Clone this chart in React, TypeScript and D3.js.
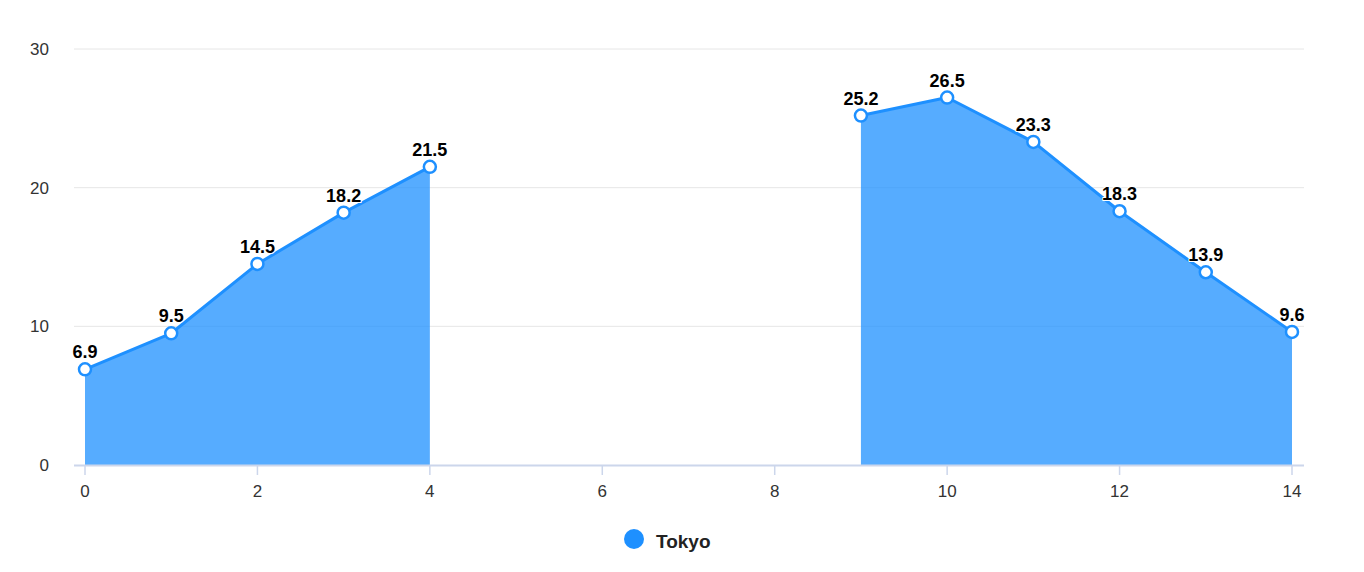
import React from "react";
import * as d3 from "d3";

const xValues = [0, 1, 2, 3, 4, 5, 6, 7, 8, 9, 10, 11, 12, 13, 14];
const tokyo: (number | null)[] = [6.9, 9.5, 14.5, 18.2, 21.5, null, null, null, null, 25.2, 26.5, 23.3, 18.3, 13.9, 9.6];
const xTicks = [0, 2, 4, 6, 8, 10, 12, 14];
const yTicks = [0, 10, 20, 30];
const seriesName = "Tokyo";

const W = 1364, H = 572;
const color = "#1e90ff";
const font = "'Liberation Sans', Arial, Helvetica, sans-serif";

export default function App() {
  const x = d3.scaleLinear().domain([0, 14]).range([85, 1292]);
  const y = d3.scaleLinear().domain([0, 30]).range([465, 49]);
  const plotL = 74, plotR = 1304;
  const pts = xValues.map((v, i) => ({ x: v, y: tokyo[i] }));
  const def = (d: { y: number | null }) => d.y !== null;
  const area = d3.area<{ x: number; y: number | null }>()
    .defined(def).x(d => x(d.x)).y0(y(0)).y1(d => y(d.y as number));
  const line = d3.line<{ x: number; y: number | null }>()
    .defined(def).x(d => x(d.x)).y(d => y(d.y as number));

  return (
    <svg width={W} height={H} style={{ position: "absolute", left: 0, top: 0, fontFamily: font }}>
      <rect width={W} height={H} fill="#fff" />
      {yTicks.map(t => (
        <g key={t}>
          {t !== 0 && <line x1={plotL} x2={plotR} y1={y(t)} y2={y(t)} stroke="#e6e6e6" strokeWidth={1} />}
          <text x={49} y={y(t) + 6} textAnchor="end" fontSize={17} fill="#333">{t}</text>
        </g>
      ))}
      <path d={area(pts) || ""} fill={color} fillOpacity={0.75} />
      <path d={line(pts) || ""} fill="none" stroke={color} strokeWidth={3} strokeLinejoin="round" />
      <line x1={plotL} x2={plotR} y1={y(0) + 0.5} y2={y(0) + 0.5} stroke="#ccd6eb" strokeWidth={2} />
      {xTicks.map(t => (
        <g key={t}>
          <line x1={x(t)} x2={x(t)} y1={y(0)} y2={y(0) + 10} stroke="#ccd6eb" strokeWidth={1.5} />
          <text x={x(t)} y={497} textAnchor="middle" fontSize={17} fill="#333">{t}</text>
        </g>
      ))}
      {pts.filter(def).map(p => (
        <g key={p.x}>
          <circle cx={x(p.x)} cy={y(p.y as number)} r={6} fill="#fff" stroke={color} strokeWidth={2.5} />
          <text x={x(p.x)} y={y(p.y as number) - 11} textAnchor="middle" fontSize={18} fontWeight="bold" fill="#000"
            stroke="#fff" strokeWidth={2} paintOrder="stroke" strokeLinejoin="round">{p.y}</text>
        </g>
      ))}
      <circle cx={634} cy={539} r={10} fill={color} />
      <text x={656} y={548} fontSize={19} fontWeight="bold" fill="#222">{seriesName}</text>
    </svg>
  );
}
